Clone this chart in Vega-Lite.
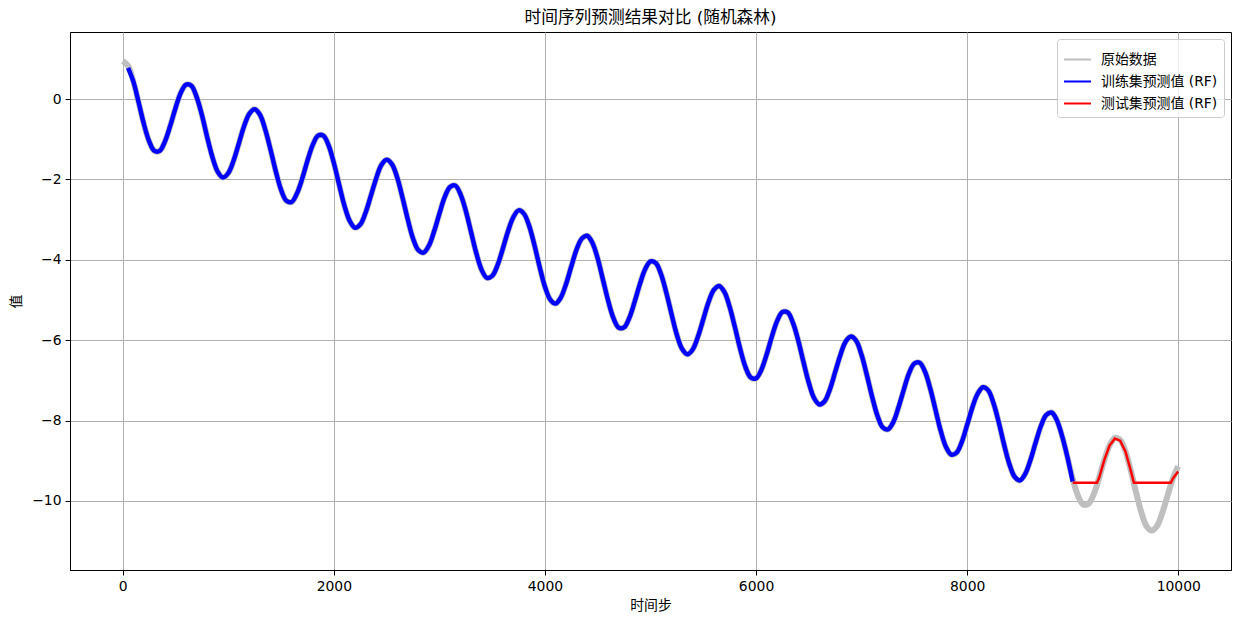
{
"$schema": "https://vega.github.io/schema/vega-lite/v6.json",
"width": 1161,
"height": 538,
"autosize": {"type": "none"},
"padding": {"left": 70, "top": 32, "right": 10, "bottom": 54},
"background": "white",
"title": {"text": "时间序列预测结果对比 (随机森林)", "fontSize": 16.7, "fontWeight": "normal", "color": "black", "anchor": "middle", "offset": 5},
"datasets": {
"actual": [
{"t":0,"a":0.95},{"t":50,"a":0.83,"p":0.78},{"t":100,"a":0.44,"p":0.44},{"t":150,"a":-0.08,"p":-0.08},{"t":200,"a":-0.62,"p":-0.62},{"t":250,"a":-1.05,"p":-1.05},{"t":300,"a":-1.29,"p":-1.29},{"t":350,"a":-1.29,"p":-1.29},{"t":400,"a":-1.05,"p":-1.05},{"t":450,"a":-0.66,"p":-0.66},
{"t":500,"a":-0.22,"p":-0.22},{"t":550,"a":0.16,"p":0.16},{"t":600,"a":0.36,"p":0.36},{"t":650,"a":0.33,"p":0.33},{"t":700,"a":0.05,"p":0.05},{"t":750,"a":-0.40,"p":-0.40},{"t":800,"a":-0.95,"p":-0.95},{"t":850,"a":-1.45,"p":-1.45},{"t":900,"a":-1.81,"p":-1.81},{"t":950,"a":-1.95,"p":-1.95},
{"t":1000,"a":-1.84,"p":-1.84},{"t":1050,"a":-1.53,"p":-1.53},{"t":1100,"a":-1.10,"p":-1.10},{"t":1150,"a":-0.67,"p":-0.67},{"t":1200,"a":-0.36,"p":-0.36},{"t":1250,"a":-0.25,"p":-0.25},{"t":1300,"a":-0.39,"p":-0.39},{"t":1350,"a":-0.76,"p":-0.76},{"t":1400,"a":-1.26,"p":-1.26},{"t":1450,"a":-1.80,"p":-1.80},
{"t":1500,"a":-2.26,"p":-2.26},{"t":1550,"a":-2.53,"p":-2.53},{"t":1600,"a":-2.56,"p":-2.56},{"t":1650,"a":-2.35,"p":-2.35},{"t":1700,"a":-1.98,"p":-1.98},{"t":1750,"a":-1.53,"p":-1.53},{"t":1800,"a":-1.14,"p":-1.14},{"t":1850,"a":-0.91,"p":-0.91},{"t":1900,"a":-0.91,"p":-0.91},{"t":1950,"a":-1.15,"p":-1.15},
{"t":2000,"a":-1.59,"p":-1.59},{"t":2050,"a":-2.13,"p":-2.13},{"t":2100,"a":-2.65,"p":-2.65},{"t":2150,"a":-3.03,"p":-3.03},{"t":2200,"a":-3.20,"p":-3.20},{"t":2250,"a":-3.12,"p":-3.12},{"t":2300,"a":-2.83,"p":-2.83},{"t":2350,"a":-2.41,"p":-2.41},{"t":2400,"a":-1.98,"p":-1.98},{"t":2450,"a":-1.64,"p":-1.64},
{"t":2500,"a":-1.51,"p":-1.51},{"t":2550,"a":-1.62,"p":-1.62},{"t":2600,"a":-1.95,"p":-1.95},{"t":2650,"a":-2.45,"p":-2.45},{"t":2700,"a":-2.99,"p":-2.99},{"t":2750,"a":-3.47,"p":-3.47},{"t":2800,"a":-3.76,"p":-3.76},{"t":2850,"a":-3.82,"p":-3.82},{"t":2900,"a":-3.65,"p":-3.65},{"t":2950,"a":-3.29,"p":-3.29},
{"t":3000,"a":-2.85,"p":-2.85},{"t":3050,"a":-2.44,"p":-2.44},{"t":3100,"a":-2.19,"p":-2.19},{"t":3150,"a":-2.15,"p":-2.15},{"t":3200,"a":-2.37,"p":-2.37},{"t":3250,"a":-2.78,"p":-2.78},{"t":3300,"a":-3.31,"p":-3.31},{"t":3350,"a":-3.84,"p":-3.84},{"t":3400,"a":-4.25,"p":-4.25},{"t":3450,"a":-4.45,"p":-4.45},
{"t":3500,"a":-4.40,"p":-4.40},{"t":3550,"a":-4.14,"p":-4.14},{"t":3600,"a":-3.73,"p":-3.73},{"t":3650,"a":-3.29,"p":-3.29},{"t":3700,"a":-2.94,"p":-2.94},{"t":3750,"a":-2.77,"p":-2.77},{"t":3800,"a":-2.85,"p":-2.85},{"t":3850,"a":-3.15,"p":-3.15},{"t":3900,"a":-3.63,"p":-3.63},{"t":3950,"a":-4.18,"p":-4.18},
{"t":4000,"a":-4.67,"p":-4.67},{"t":4050,"a":-4.99,"p":-4.99},{"t":4100,"a":-5.09,"p":-5.09},{"t":4150,"a":-4.94,"p":-4.94},{"t":4200,"a":-4.60,"p":-4.60},{"t":4250,"a":-4.16,"p":-4.16},{"t":4300,"a":-3.74,"p":-3.74},{"t":4350,"a":-3.47,"p":-3.47},{"t":4400,"a":-3.40,"p":-3.40},{"t":4450,"a":-3.58,"p":-3.58},
{"t":4500,"a":-3.97,"p":-3.97},{"t":4550,"a":-4.50,"p":-4.50},{"t":4600,"a":-5.03,"p":-5.03},{"t":4650,"a":-5.46,"p":-5.46},{"t":4700,"a":-5.69,"p":-5.69},{"t":4750,"a":-5.68,"p":-5.68},{"t":4800,"a":-5.44,"p":-5.44},{"t":4850,"a":-5.04,"p":-5.04},{"t":4900,"a":-4.60,"p":-4.60},{"t":4950,"a":-4.23,"p":-4.23},
{"t":5000,"a":-4.04,"p":-4.04},{"t":5050,"a":-4.08,"p":-4.08},{"t":5100,"a":-4.36,"p":-4.36},{"t":5150,"a":-4.82,"p":-4.82},{"t":5200,"a":-5.36,"p":-5.36},{"t":5250,"a":-5.87,"p":-5.87},{"t":5300,"a":-6.22,"p":-6.22},{"t":5350,"a":-6.35,"p":-6.35},{"t":5400,"a":-6.23,"p":-6.23},{"t":5450,"a":-5.91,"p":-5.91},
{"t":5500,"a":-5.48,"p":-5.48},{"t":5550,"a":-5.05,"p":-5.05},{"t":5600,"a":-4.75,"p":-4.75},{"t":5650,"a":-4.65,"p":-4.65},{"t":5700,"a":-4.80,"p":-4.80},{"t":5750,"a":-5.17,"p":-5.17},{"t":5800,"a":-5.68,"p":-5.68},{"t":5850,"a":-6.22,"p":-6.22},{"t":5900,"a":-6.67,"p":-6.67},{"t":5950,"a":-6.93,"p":-6.93},
{"t":6000,"a":-6.95,"p":-6.95},{"t":6050,"a":-6.74,"p":-6.74},{"t":6100,"a":-6.36,"p":-6.36},{"t":6150,"a":-5.91,"p":-5.91},{"t":6200,"a":-5.52,"p":-5.52},{"t":6250,"a":-5.30,"p":-5.30},{"t":6300,"a":-5.31,"p":-5.31},{"t":6350,"a":-5.57,"p":-5.57},{"t":6400,"a":-6.01,"p":-6.01},{"t":6450,"a":-6.55,"p":-6.55},
{"t":6500,"a":-7.06,"p":-7.06},{"t":6550,"a":-7.44,"p":-7.44},{"t":6600,"a":-7.60,"p":-7.60},{"t":6650,"a":-7.52,"p":-7.52},{"t":6700,"a":-7.22,"p":-7.22},{"t":6750,"a":-6.79,"p":-6.79},{"t":6800,"a":-6.36,"p":-6.36},{"t":6850,"a":-6.03,"p":-6.03},{"t":6900,"a":-5.91,"p":-5.91},{"t":6950,"a":-6.02,"p":-6.02},
{"t":7000,"a":-6.37,"p":-6.37},{"t":7050,"a":-6.87,"p":-6.87},{"t":7100,"a":-7.41,"p":-7.41},{"t":7150,"a":-7.88,"p":-7.88},{"t":7200,"a":-8.17,"p":-8.17},{"t":7250,"a":-8.22,"p":-8.22},{"t":7300,"a":-8.04,"p":-8.04},{"t":7350,"a":-7.67,"p":-7.67},{"t":7400,"a":-7.23,"p":-7.23},{"t":7450,"a":-6.82,"p":-6.82},
{"t":7500,"a":-6.58,"p":-6.58},{"t":7550,"a":-6.56,"p":-6.56},{"t":7600,"a":-6.78,"p":-6.78},{"t":7650,"a":-7.20,"p":-7.20},{"t":7700,"a":-7.73,"p":-7.73},{"t":7750,"a":-8.26,"p":-8.26},{"t":7800,"a":-8.66,"p":-8.66},{"t":7850,"a":-8.85,"p":-8.85},{"t":7900,"a":-8.80,"p":-8.80},{"t":7950,"a":-8.53,"p":-8.53},
{"t":8000,"a":-8.11,"p":-8.11},{"t":8050,"a":-7.67,"p":-7.67},{"t":8100,"a":-7.33,"p":-7.33},{"t":8150,"a":-7.17,"p":-7.17},{"t":8200,"a":-7.25,"p":-7.25},{"t":8250,"a":-7.57,"p":-7.57},{"t":8300,"a":-8.05,"p":-8.05},{"t":8350,"a":-8.60,"p":-8.60},{"t":8400,"a":-9.08,"p":-9.08},{"t":8450,"a":-9.40,"p":-9.40},
{"t":8500,"a":-9.49,"p":-9.49},{"t":8550,"a":-9.33,"p":-9.33},{"t":8600,"a":-8.98,"p":-8.98},{"t":8650,"a":-8.54,"p":-8.54},{"t":8700,"a":-8.13,"p":-8.13},{"t":8750,"a":-7.86,"p":-7.86},{"t":8800,"a":-7.80,"p":-7.80},{"t":8850,"a":-7.99,"p":-7.99},{"t":8900,"a":-8.39,"p":-8.39},{"t":8950,"a":-8.91,"p":-8.91},
{"t":9000,"a":-9.45,"p":-9.52},{"t":9050,"a":-9.87},{"t":9100,"a":-10.09},{"t":9150,"a":-10.07},{"t":9200,"a":-9.83},{"t":9250,"a":-9.43},{"t":9300,"a":-8.98},{"t":9350,"a":-8.62},{"t":9400,"a":-8.43},{"t":9450,"a":-8.48},
{"t":9500,"a":-8.77},{"t":9550,"a":-9.24},{"t":9600,"a":-9.78},{"t":9650,"a":-10.28},{"t":9700,"a":-10.63},{"t":9750,"a":-10.74},{"t":9800,"a":-10.62},{"t":9850,"a":-10.29},{"t":9900,"a":-9.86},{"t":9950,"a":-9.44},{"t":9999,"a":-9.14}
],
"test": [
{"t":9000,"q":-9.55},{"t":9230,"q":-9.55},{"t":9250,"q":-9.43},{"t":9300,"q":-8.98},{"t":9350,"q":-8.62},{"t":9400,"q":-8.45},{"t":9450,"q":-8.50},{"t":9500,"q":-8.77},{"t":9550,"q":-9.24},{"t":9580,"q":-9.55},{"t":9930,"q":-9.55},{"t":9950,"q":-9.44},{"t":9999,"q":-9.27}
]
},
"layer": [
{
"data": {"name": "actual"},
"mark": {"type": "line", "strokeWidth": 6, "interpolate": "catmull-rom"},
"encoding": {
"x": {"field": "t", "type": "quantitative", "title": "时间步", "scale": {"domain": [-500, 10500], "nice": false}, "axis": {"values": [0, 2000, 4000, 6000, 8000, 10000], "format": "d"}},
"y": {"field": "a", "type": "quantitative", "title": "值", "scale": {"domain": [-11.72, 1.67], "nice": false, "zero": false}, "axis": {"values": [-10, -8, -6, -4, -2, 0]}},
"color": {"datum": "原始数据", "type": "nominal",
"scale": {"domain": ["原始数据", "训练集预测值 (RF)", "测试集预测值 (RF)"], "range": ["#bfbfbf", "#0000ff", "#ff0000"]},
"legend": {"title": null, "orient": "top-right", "offset": 7, "symbolType": "stroke", "symbolSize": 729, "symbolStrokeWidth": 2, "labelFontSize": 13.9, "labelColor": "black", "labelOffset": 9, "rowPadding": -7, "padding": 6, "fillColor": "rgba(255,255,255,0.8)", "strokeColor": "#cccccc", "cornerRadius": 3,
"encode": {"symbols": {"update": {"strokeWidth": {"value": 2}, "opacity": {"value": 1}}}}}}
}
},
{
"data": {"name": "actual"},
"transform": [{"filter": "isValid(datum.p)"}],
"mark": {"type": "line", "strokeWidth": 4.5, "interpolate": "catmull-rom"},
"encoding": {
"x": {"field": "t", "type": "quantitative", "title": "时间步"},
"y": {"field": "p", "type": "quantitative", "title": "值"},
"color": {"datum": "训练集预测值 (RF)", "type": "nominal"}
}
},
{
"data": {"name": "test"},
"mark": {"type": "line", "strokeWidth": 2.5},
"encoding": {
"x": {"field": "t", "type": "quantitative", "title": "时间步"},
"y": {"field": "q", "type": "quantitative", "title": "值"},
"color": {"datum": "测试集预测值 (RF)", "type": "nominal"}
}
}
],
"config": {
"font": "DejaVu Sans, Noto Sans CJK SC",
"view": {"stroke": "black", "strokeWidth": 1},
"axis": {"domainColor": "black", "tickColor": "black", "tickSize": 5, "labelFontSize": 13.9, "labelColor": "black", "titleFontSize": 13.9, "titleFontWeight": "normal", "titleColor": "black", "gridColor": "#b0b0b0", "gridWidth": 1, "labelPadding": 4},
"axisX": {"titlePadding": 6},
"axisY": {"titlePadding": 8}
}
}
